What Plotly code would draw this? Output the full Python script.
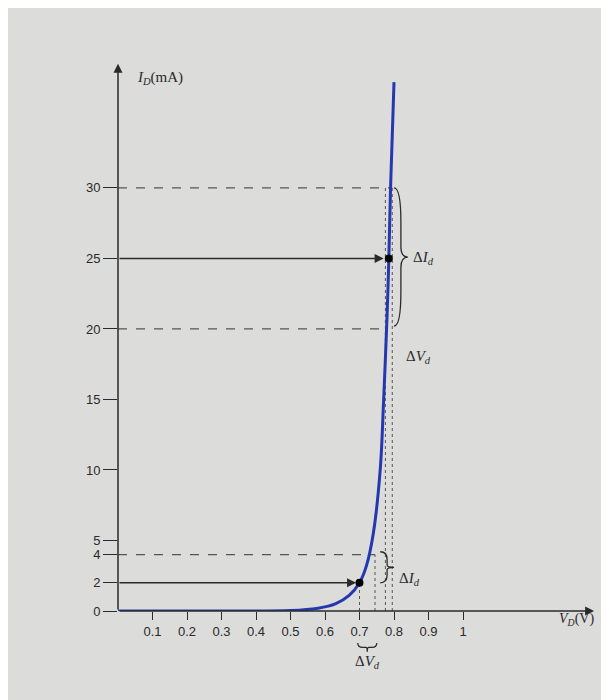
import plotly.graph_objects as go

# diode curve
vd = [0, 0.3, 0.5, 0.58, 0.63, 0.67, 0.7, 0.72, 0.74, 0.76, 0.77, 0.78, 0.785, 0.79, 0.80]
id_ma = [0, 0, 0.03, 0.2, 0.5, 1.1, 2, 3.2, 5.5, 10, 15, 21, 25, 30, 37.5]

x_ticks = [0.1, 0.2, 0.3, 0.4, 0.5, 0.6, 0.7, 0.8, 0.9, 1]
y_ticks = [2, 4, 5, 10, 15, 20, 25, 30]

bg = "#dcdcda"
ink = "#2a2a2a"
blue = "#2438b0"

fig = go.Figure()

# dashed guide lines
for y, xe in [(30, 0.795), (20, 0.775), (4, 0.745)]:
    fig.add_trace(go.Scatter(x=[0, xe], y=[y, y], mode="lines",
                             line=dict(color="#555", dash="dash", width=1.2), hoverinfo="skip"))
for xv, ye in [(0.775, 30), (0.795, 30), (0.745, 4), (0.7, 2)]:
    fig.add_trace(go.Scatter(x=[xv, xv], y=[0, ye], mode="lines",
                             line=dict(color="#555", dash="dot", width=1), hoverinfo="skip"))

fig.add_trace(go.Scatter(x=vd, y=id_ma, mode="lines", line=dict(color=blue, width=3, shape="spline"),
                         hoverinfo="skip"))
fig.add_trace(go.Scatter(x=[0.785, 0.7], y=[25, 2], mode="markers",
                         marker=dict(color="black", size=8), hoverinfo="skip"))

# arrows
for x1, y1, x0, y0 in [(0.77, 25, 0, 25), (0.69, 2, 0, 2), (1.38, 0, 0, 0), (0, 38.8, 0, 0)]:
    fig.add_annotation(x=x1, y=y1, ax=x0, ay=y0, xref="x", yref="y", axref="x", ayref="y",
                       showarrow=True, arrowhead=2, arrowsize=1.2, arrowwidth=1.5, arrowcolor=ink, text="")

# braces
def brace(x, y0, y1, w):
    m = (y0 + y1) / 2
    return (f"M {x},{y1} Q {x+w},{y1} {x+w},{y1-(y1-m)*0.5} L {x+w},{m+(y1-m)*0.15} "
            f"Q {x+w},{m} {x+2*w},{m} Q {x+w},{m} {x+w},{m-(m-y0)*0.15} "
            f"L {x+w},{y0+(m-y0)*0.5} Q {x+w},{y0} {x},{y0}")

def hbrace(x0, x1, y, h):
    m = (x0 + x1) / 2
    return (f"M {x0},{y} Q {x0},{y-h} {x0+(m-x0)*0.5},{y-h} L {m-(m-x0)*0.15},{y-h} "
            f"Q {m},{y-h} {m},{y-2*h} Q {m},{y-h} {m+(x1-m)*0.15},{y-h} "
            f"L {x1-(x1-m)*0.5},{y-h} Q {x1},{y-h} {x1},{y}")

fig.add_shape(type="path", path=brace(0.8, 20.2, 30, 0.02), line=dict(color=ink, width=1.3))
fig.add_shape(type="path", path=brace(0.76, 2, 4.2, 0.02), line=dict(color=ink, width=1.3))
fig.add_shape(type="path", yref="paper", path=hbrace(0.695, 0.75, -0.058, 0.008),
              line=dict(color=ink, width=1.3))

ann = [
    (0.05, 37.8, "<i>I<sub>D</sub></i>(mA)", 15, "left", "y"),
    (0.85, 25, "Δ<i>I<sub>d</sub></i>", 15, "left", "y"),
    (0.87, 18, "Δ<i>V<sub>d</sub></i>", 15, "center", "y"),
    (0.81, 2.3, "Δ<i>I<sub>d</sub></i>", 15, "left", "y"),
    (1.33, -0.035, "<i>V<sub>D</sub></i>(V)", 14, "center", "paper"),
    (0.722, -0.112, "Δ<i>V<sub>d</sub></i>", 15, "center", "paper"),
]
for x, y, t, s, a, yr in ann:
    fig.add_annotation(x=x, y=y, yref=yr, text=t, showarrow=False, xanchor=a,
                       font=dict(size=s, color=ink, family="Liberation Serif"))

fig.update_layout(
    width=609, height=700, showlegend=False,
    paper_bgcolor=bg, plot_bgcolor=bg,
    margin=dict(l=110, r=16, t=53, b=97),
    font=dict(family="Liberation Sans", size=13, color=ink),
    xaxis=dict(range=[0, 1.4], tickvals=x_ticks, ticks="outside", ticklen=8, tickcolor=ink,
               showgrid=False, zeroline=False),
    yaxis=dict(range=[0, 39], tickvals=[0] + y_ticks, ticks="outside", ticklen=14, tickcolor=ink,
               showgrid=False, zeroline=False),
)
fig.write_html("out.html")
